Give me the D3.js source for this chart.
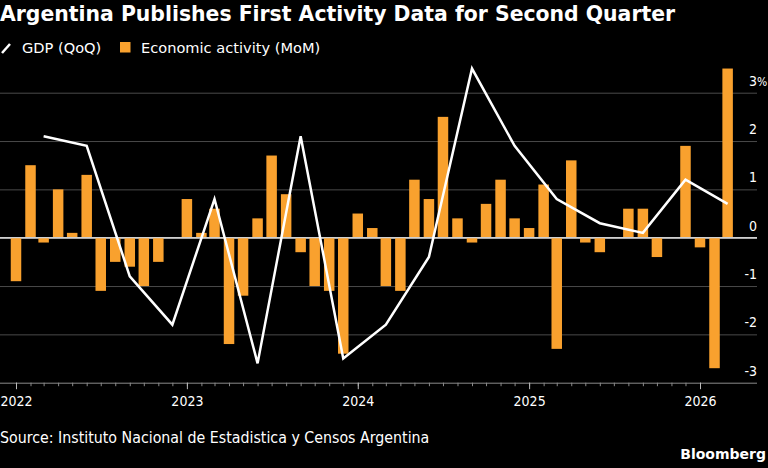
<!DOCTYPE html>
<html>
<head>
<meta charset="utf-8">
<script src="https://cdn.jsdelivr.net/npm/d3@7"></script>
<style>
  html, body { margin: 0; padding: 0; background: #000; }
  svg { display: block; }
  .title { font-family: "DejaVu Sans", sans-serif; font-weight: bold; font-size: 20.4px; fill: #fff; }
  .legend { font-family: "DejaVu Sans", sans-serif; font-size: 14.6px; fill: #fff; }
  .small { font-family: "DejaVu Sans Condensed", "Liberation Sans Narrow", Roboto, sans-serif; font-size: 14px; fill: #fff; }
  .logo { font-family: "DejaVu Sans", sans-serif; font-weight: bold; font-size: 14px; fill: #fff; }
</style>
</head>
<body>
<div id="chart-area"></div>
<script>
// monthly economic activity (MoM %), Jan 2022 .. Mar 2026
const months = d3.utcMonths(new Date(Date.UTC(2022, 0, 1)), new Date(Date.UTC(2026, 3, 1)));
const activity = [
  -0.9, 1.5, -0.1, 1.0, 0.1, 1.3, -1.1, -0.5, -0.6, -1.0, -0.5, 0.0,
  0.8, 0.1, 0.6, -2.2, -1.2, 0.4, 1.7, 0.9, -0.3, -1.0, -1.1, -2.4,
  0.5, 0.2, -1.0, -1.1, 1.2, 0.8, 2.5, 0.4, -0.1, 0.7, 1.2, 0.4,
  0.2, 1.1, -2.3, 1.6, -0.1, -0.3, 0.0, 0.6, 0.6, -0.4, 0.0, 1.9,
  -0.2, -2.7, 3.5
];
// quarterly GDP (QoQ %), plotted at quarter end month, Q1 2022 .. Q1 2026
const quarters = d3.utcMonths(new Date(Date.UTC(2022, 2, 1)), new Date(Date.UTC(2026, 3, 1)), 3);
const gdp = [2.1, 1.9, -0.8, -1.8, 0.8, -2.6, 2.1, -2.5, -1.8, -0.4, 3.5, 1.9, 0.8, 0.3, 0.1, 1.2, 0.7];
const yTicks = [-3, -2, -1, 0, 1, 2, 3];

const svgWidth = 768, svgHeight = 468;
const plotRight = 757;
const orange = "#f9a12e";

const svg = d3.select("#chart-area")
              .append("svg")
              .attr("width", svgWidth)
              .attr("height", svgHeight)
              .style("background", "#000");

const x = d3.scaleUtc()
            .domain([new Date(Date.UTC(2022, 0, 1)), new Date(Date.UTC(2026, 0, 1))])
            .range([16, 700]);

const y = d3.scaleLinear()
            .domain([-3, 3])
            .range([382.7, 92.7]);

// title + legend
svg.append("text")
   .attr("class", "title")
   .attr("x", 0)
   .attr("y", 21)
   .text("Argentina Publishes First Activity Data for Second Quarter");

svg.append("line")
   .attr("x1", 2).attr("y1", 53).attr("x2", 10).attr("y2", 44)
   .attr("stroke", "#fff").attr("stroke-width", 2.5);
svg.append("text").attr("class", "legend").attr("x", 22).attr("y", 53).text("GDP (QoQ)");
svg.append("rect")
   .attr("x", 120).attr("y", 42).attr("width", 10.5).attr("height", 10.5)
   .attr("fill", orange);
svg.append("text").attr("class", "legend").attr("x", 141).attr("y", 53).text("Economic activity (MoM)");

// gridlines + right labels
const yAxis = svg.append("g")
   .call(d3.axisRight(y).tickValues(yTicks).tickSize(plotRight).tickFormat(d => d));
yAxis.select(".domain").remove();
yAxis.selectAll(".tick line")
     .attr("stroke", d => d === 0 ? "#d0d0d0" : (d === -3 ? "#8a8a8a" : "#4a4a4a"))
     .attr("stroke-width", d => d === 0 ? 1.3 : 1);
yAxis.selectAll(".tick text")
     .attr("class", "small")
     .attr("x", plotRight)
     .attr("dy", -7.5)
     .attr("text-anchor", "end")
     .attr("fill", "#fff")
     .style("font-size", "14px");
yAxis.selectAll(".tick")
     .filter(d => d === 3)
     .append("text")
     .attr("class", "small")
     .attr("x", plotRight)
     .attr("dy", -7.5)
     .attr("fill", "#fff")
     .style("font-size", "12px")
     .text("%");

// month and year ticks
const monthAxis = svg.append("g")
   .attr("transform", `translate(0, ${y(-3)})`)
   .call(d3.axisBottom(x).ticks(d3.utcMonth.every(1)).tickSize(3.5).tickFormat(""));
monthAxis.select(".domain").remove();
monthAxis.selectAll(".tick line").attr("stroke", "#8a8a8a");

const yearAxis = svg.append("g")
   .attr("transform", `translate(0, ${y(-3)})`)
   .call(d3.axisBottom(x).ticks(d3.utcYear.every(1)).tickSize(6.5).tickPadding(7).tickFormat(d3.utcFormat("%Y")));
yearAxis.select(".domain").remove();
yearAxis.selectAll(".tick line").attr("stroke", "#bbb");
yearAxis.selectAll(".tick text")
        .attr("class", "small")
        .attr("fill", "#fff")
        .style("font-size", "14px");

// bars
const bw = 10.5;
svg.append("g")
   .selectAll("rect")
   .data(activity)
   .enter()
   .append("rect")
     .attr("x", (d, i) => x(months[i]) - bw / 2)
     .attr("width", bw)
     .attr("y", d => y(Math.max(0, d)))
     .attr("height", d => Math.abs(y(d) - y(0)))
     .attr("fill", orange);

// zero line over bars
svg.append("line")
   .attr("x1", 0).attr("x2", plotRight)
   .attr("y1", y(0)).attr("y2", y(0))
   .attr("stroke", "#d0d0d0").attr("stroke-width", 1.3);

// GDP line
const line = d3.line()
               .x((d, i) => x(quarters[i]))
               .y(d => y(d));
svg.append("path")
   .datum(gdp)
   .attr("d", line)
   .attr("fill", "none")
   .attr("stroke", "#fff")
   .attr("stroke-width", 2.5)
   .attr("stroke-linejoin", "miter");

// footer
svg.append("text")
   .attr("class", "small")
   .attr("x", 0)
   .attr("y", 443)
   .style("font-size", "15.8px")
   .text("Source: Instituto Nacional de Estadistica y Censos Argentina");

svg.append("text")
   .attr("class", "logo")
   .attr("x", 766)
   .attr("y", 459)
   .attr("text-anchor", "end")
   .text("Bloomberg");
</script>
</body>
</html>
